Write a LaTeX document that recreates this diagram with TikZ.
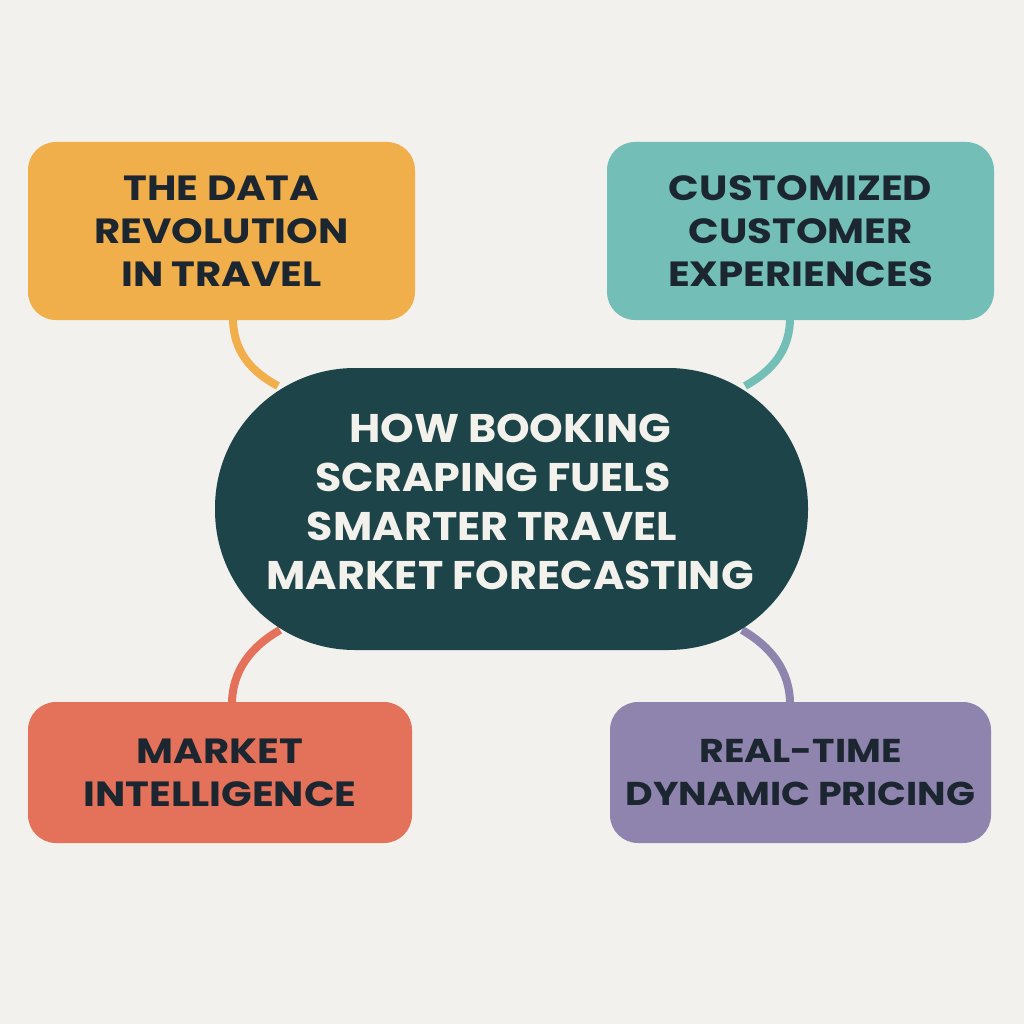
\documentclass[tikz,border=0pt]{standalone}
\usepackage{fontspec}
\setmainfont{Poppins}
\usetikzlibrary{backgrounds}
\definecolor{bg}{HTML}{F2F1ED}
\definecolor{corange}{HTML}{F0AF4A}
\definecolor{cteal}{HTML}{73BFB7}
\definecolor{ccenter}{HTML}{1C4449}
\definecolor{ccoral}{HTML}{E4715A}
\definecolor{cpurple}{HTML}{8E84AE}
\definecolor{ctext}{HTML}{1C2630}
\definecolor{clight}{HTML}{F3F1EC}
\tikzset{
  topicbox/.style={fill=#1, rounded corners=28pt, inner sep=0pt, align=center,
    text=ctext, font=\fontsize{35}{43}\selectfont\addfontfeature{FakeStretch=1.15}\bfseries},
  smalltopic/.style={font=\fontsize{33}{43}\selectfont\addfontfeature{FakeStretch=1.15}\bfseries},
  hubbox/.style={fill=ccenter, rounded corners=140pt, inner sep=0pt},
  hubtextstyle/.style={inner sep=0pt, align=center,
    text=clight, font=\fontsize{40}{49}\selectfont\addfontfeature{FakeStretch=1.07}\bfseries},
  link/.style={draw=#1, line width=8pt}
}
\begin{document}
\begin{tikzpicture}[x=1pt,y=-1pt]
\useasboundingbox (0,0) rectangle (1024,1024);
\node[hubbox, minimum width=593pt, minimum height=282pt] (hub) at (511.5,509) {};
\node[hubtextstyle] (hubtext) at (510,502) {HOW BOOKING\\SCRAPING FUELS\rule{34pt}{0pt}\\SMARTER TRAVEL\rule{36pt}{0pt}\\MARKET FORECASTING};
\node[topicbox=corange, minimum width=387pt, minimum height=178pt] (tl) at (221.5,231) {THE DATA\\REVOLUTION\\IN TRAVEL};
\node[topicbox=cteal, minimum width=387pt, minimum height=178pt] (tr) at (800.5,231) {CUSTOMIZED\\CUSTOMER\\EXPERIENCES};
\node[topicbox=ccoral, minimum width=384pt, minimum height=141pt] (bl) at (220,772.5) {MARKET\\INTELLIGENCE};
\node[topicbox=cpurple, smalltopic, minimum width=381pt, minimum height=141pt] (br) at (800.5,772.5) {REAL-TIME\\DYNAMIC PRICING};
\coordinate (tla) at (233,318);
\coordinate (tlb) at (278,386);
\coordinate (tra) at (790,318);
\coordinate (trb) at (745,386);
\coordinate (bla) at (232,704);
\coordinate (blb) at (280,630);
\coordinate (bra) at (790,704);
\coordinate (brb) at (742,630);
\begin{scope}[on background layer]
\fill[bg] (0,0) rectangle (1024,1024);
\draw[link=corange] (tla) .. controls (233,352) and (252,372) .. (tlb);
\draw[link=cteal] (tra) .. controls (790,352) and (770,372) .. (trb);
\draw[link=ccoral] (bla) .. controls (232,670) and (252,646) .. (blb);
\draw[link=cpurple] (bra) .. controls (790,670) and (770,646) .. (brb);
\end{scope}
\end{tikzpicture}
\end{document}
